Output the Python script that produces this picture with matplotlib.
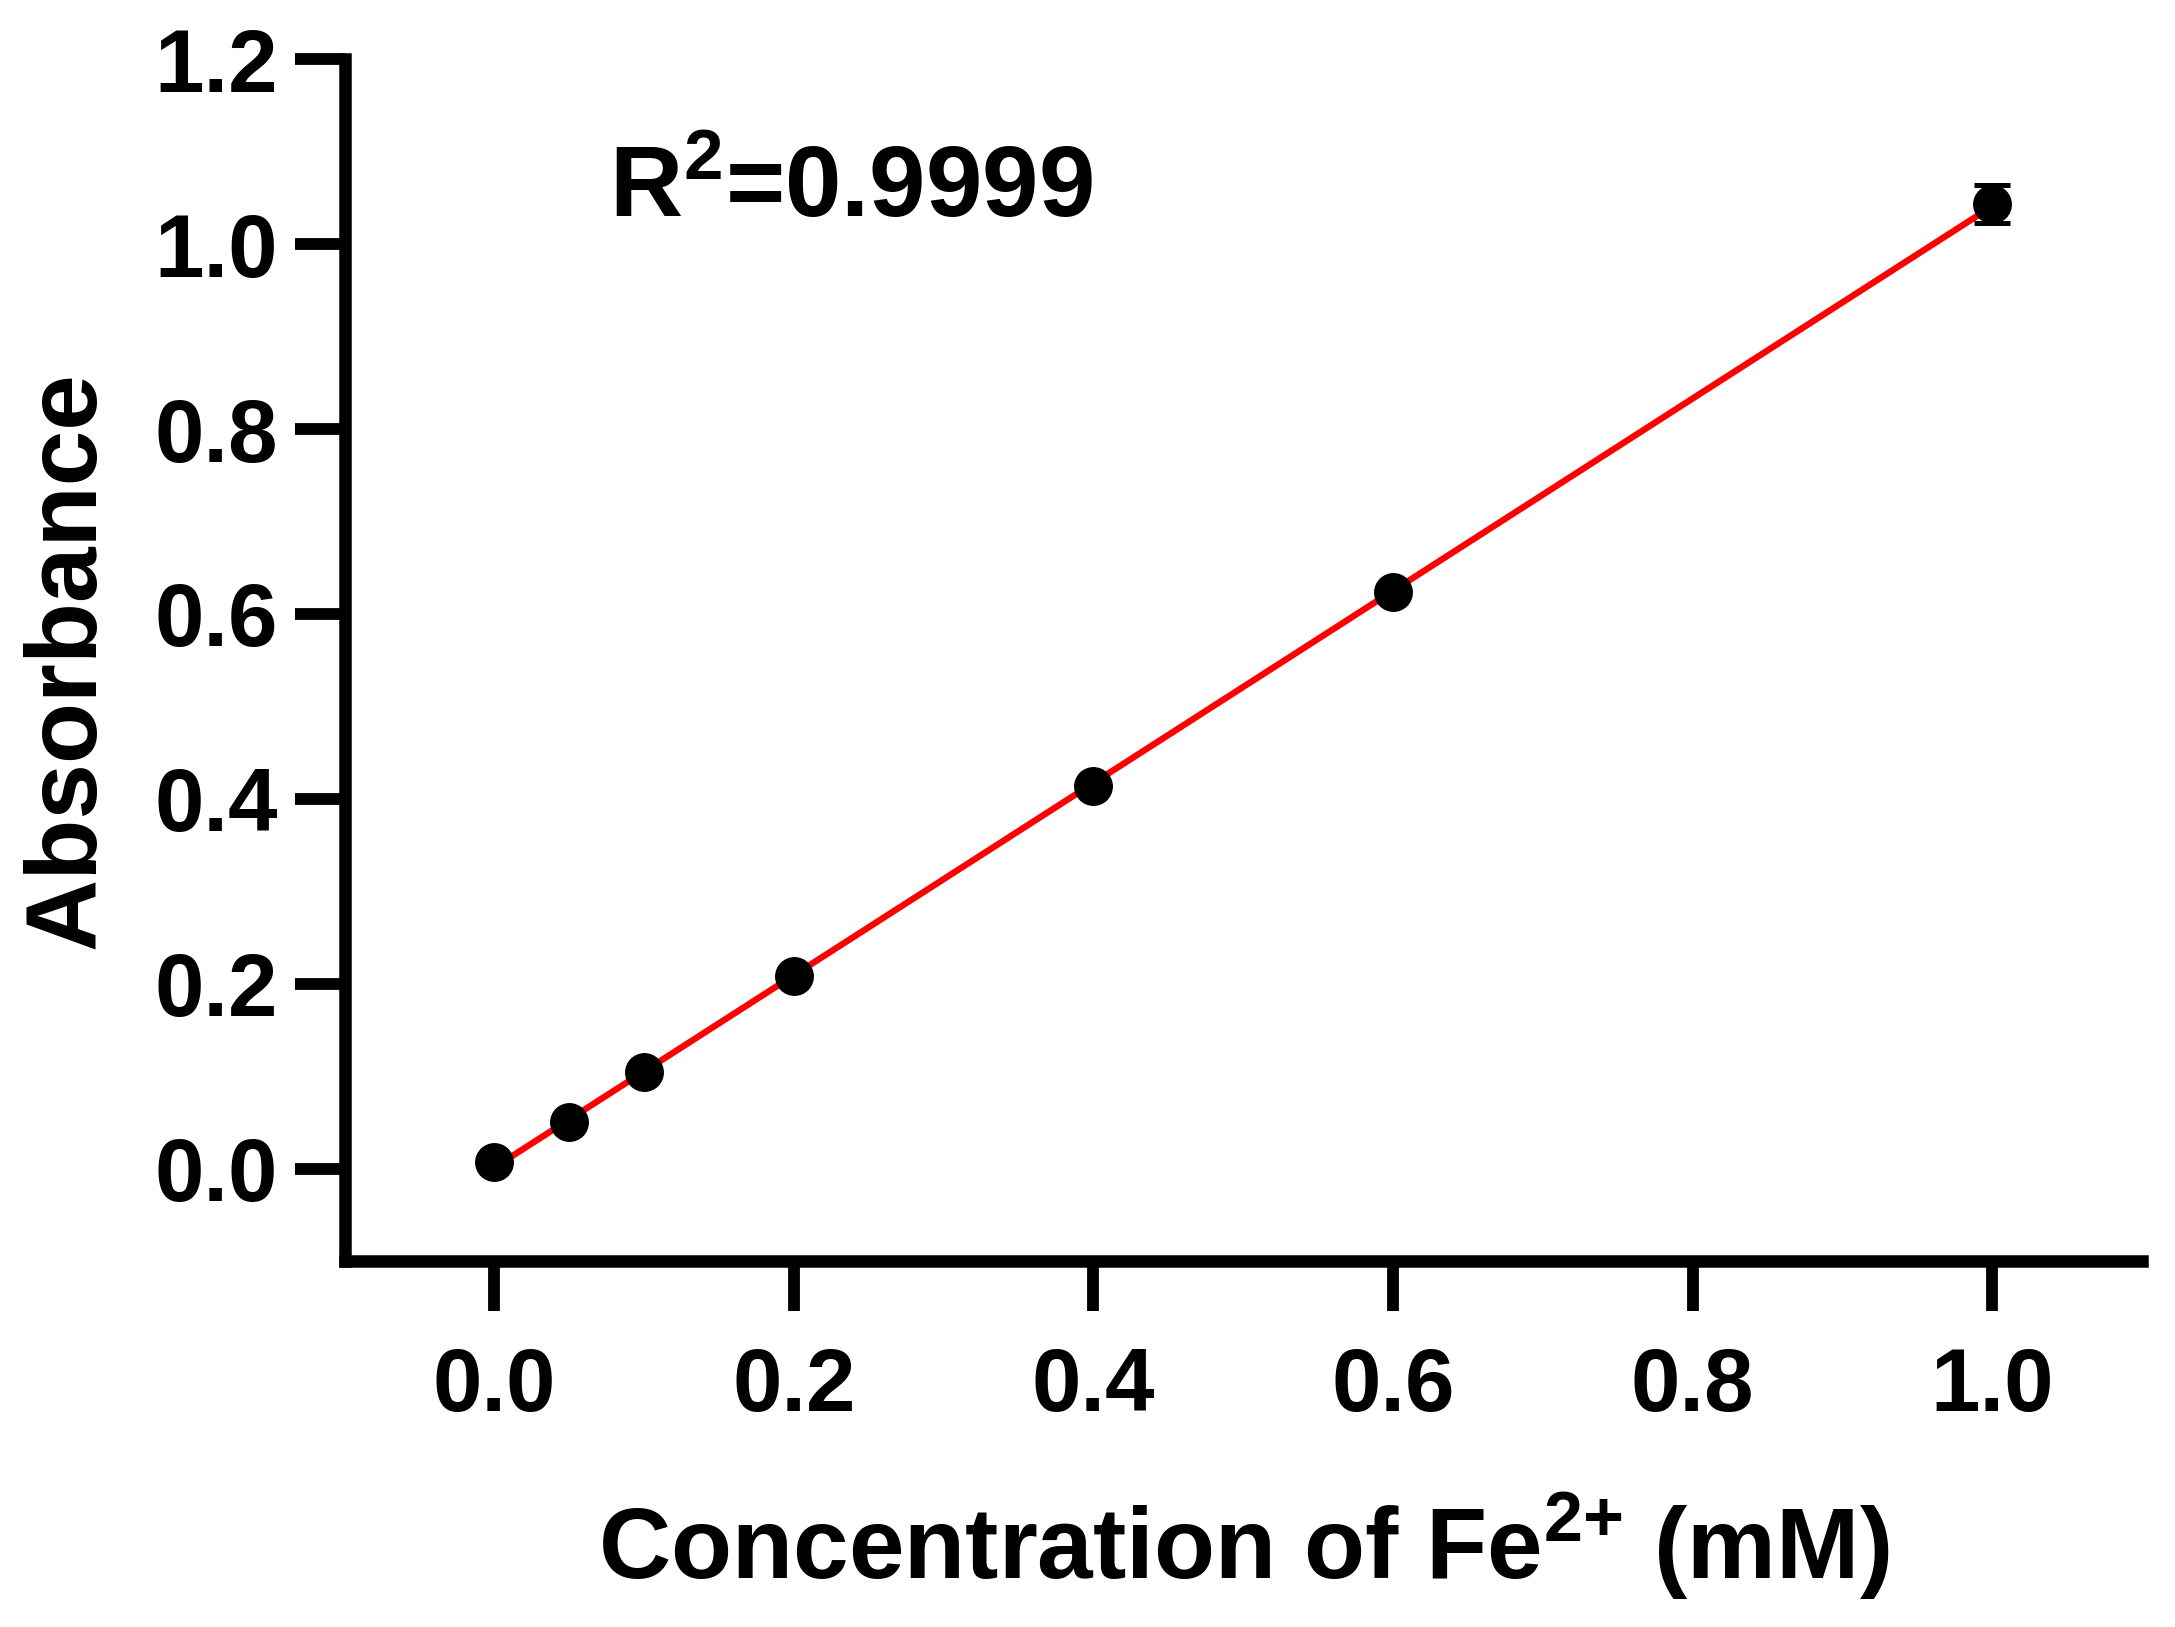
import numpy as np
import matplotlib
matplotlib.use("Agg")
import matplotlib.pyplot as plt

plt.rcParams["font.family"] = ["Liberation Sans", "DejaVu Sans"]
plt.rcParams["font.weight"] = "bold"
plt.rcParams["mathtext.fontset"] = "custom"
plt.rcParams["mathtext.rm"] = "Liberation Sans:bold"
plt.rcParams["mathtext.it"] = "Liberation Sans:bold"
plt.rcParams["mathtext.bf"] = "Liberation Sans:bold"
plt.rcParams["mathtext.default"] = "rm"

# Fe2+ standard curve
conc = [0.0, 0.05, 0.1, 0.2, 0.4, 0.6, 1.0]
absorb = [0.007, 0.051, 0.105, 0.209, 0.414, 0.624, 1.043]
err = [0.004, 0.004, 0.004, 0.004, 0.004, 0.004, 0.0205]
r2_text = "R$^{2}$=0.9999"

xticks = [0.0, 0.2, 0.4, 0.6, 0.8, 1.0]
yticks = [0.0, 0.2, 0.4, 0.6, 0.8, 1.0, 1.2]

# linear fit
k, b = np.polyfit(conc, absorb, 1)
xfit = np.array([conc[0], conc[-1]])

fig = plt.figure(figsize=(21.75, 16.27), dpi=100)
ax = fig.add_axes([0.1584, 0.2247, 0.9848 - 0.1584, 0.9637 - 0.2247])

ax.plot(xfit, k * xfit + b, color="#ff0000", lw=4.6, zorder=2)
ax.errorbar(conc, absorb, yerr=err, fmt="o", color="black", ms=27,
            elinewidth=3.6, capsize=13, capthick=3.6, zorder=3)

ax.set_xlim(-0.1, 1.1)
ax.set_ylim(-0.1, 1.2)
ax.set_xticks(xticks)
ax.set_yticks(yticks)
ax.set_xticklabels([f"{v:.1f}" for v in xticks])
ax.set_yticklabels([f"{v:.1f}" for v in yticks])

for s in ["top", "right"]:
    ax.spines[s].set_visible(False)
for s in ["left", "bottom"]:
    ax.spines[s].set_linewidth(9)

ax.tick_params(axis="both", width=8.5, length=36, labelsize=64, colors="black")
ax.tick_params(axis="x", pad=25)
ax.tick_params(axis="y", pad=12)

ax.set_xlabel(r"Concentration of Fe$^{\text{2+}}$ (mM)", fontsize=72,
              fontweight="bold", labelpad=44)
ax.set_ylabel("Absorbance", fontsize=72, fontweight="bold", labelpad=28)

ax.text(0.147, 0.868, r2_text, transform=ax.transAxes, fontsize=73,
        fontweight="bold", ha="left", va="baseline")

fig.savefig("out.png", dpi=100)
